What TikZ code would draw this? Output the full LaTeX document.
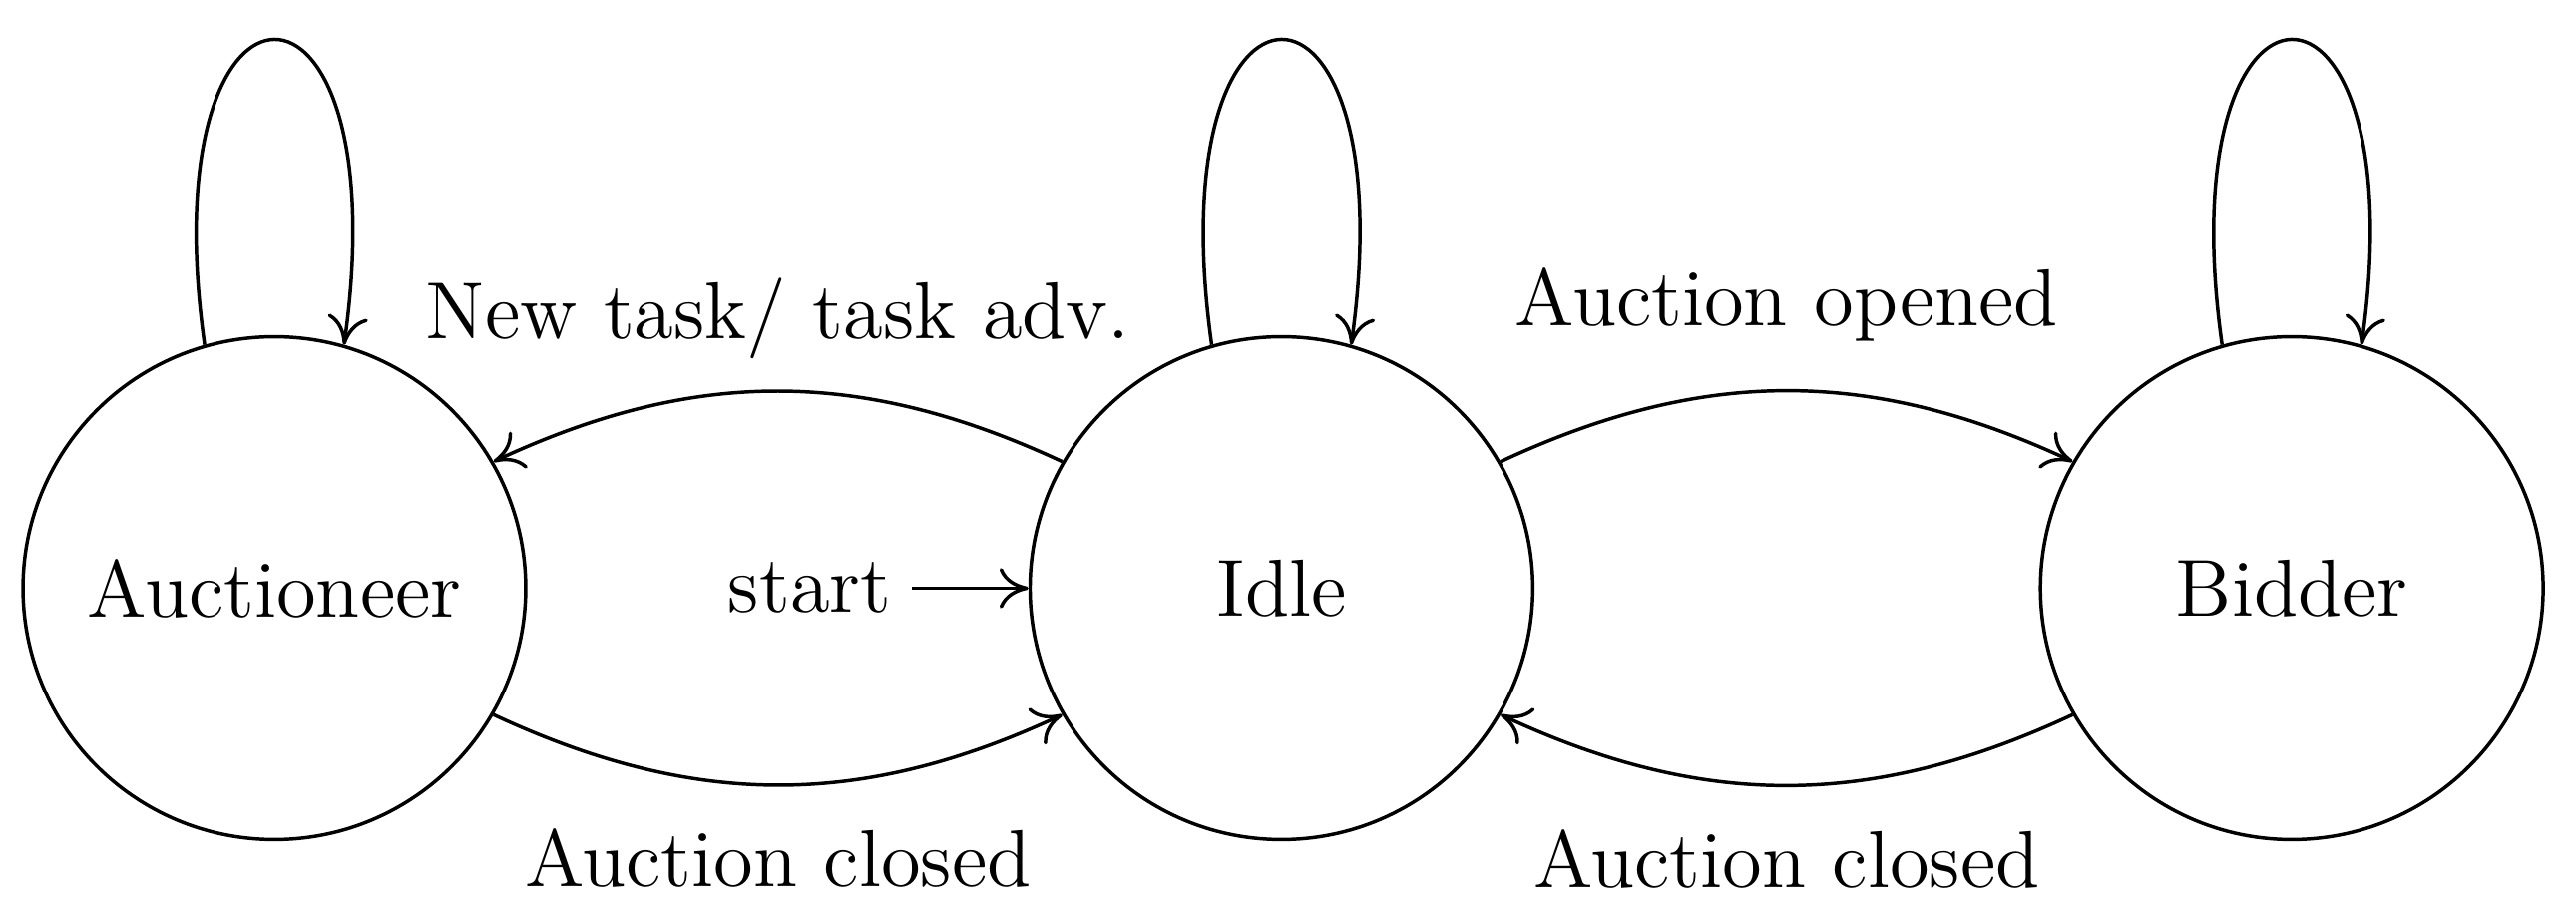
\documentclass[tikz,border=0pt]{standalone}
\usetikzlibrary{arrows.meta}
\begin{document}
\begin{tikzpicture}[
  state/.style={draw,circle,minimum size=3.06cm,inner sep=0pt,line width=0.6pt},
  edge/.style={-{To[length=5pt,width=7pt]},line width=0.6pt},
  lbl/.style={font=\fontsize{14}{16}\selectfont}]
\useasboundingbox (0,0) rectangle (15.68,5.61);
\node[state,lbl] (A) at (1.67,2.03) {Auctioneer};
\node[state,lbl] (I) at (7.80,2.03) {Idle};
\node[state,lbl] (B) at (13.95,2.03) {Bidder};
\coordinate (S) at (5.55,2.03);
\node[lbl,anchor=east] (st) at (S) {start};
\draw[edge] (S) -- (I.west);
\foreach \n in {A,I,B}{
  \draw[edge] (\n.106) .. controls +(98:2.5) and +(82:2.5) .. (\n.74);
}
\draw[edge] (I.150) to[bend right=25] node[lbl,above=2pt] (l1) {New task/ task adv.} (A.30);
\draw[edge] (I.30) to[bend left=25] node[lbl,above=5pt] (l2) {Auction opened} (B.150);
\draw[edge] (A.-30) to[bend right=25] node[lbl,below=4pt] (l3) {Auction closed} (I.-150);
\draw[edge] (B.-150) to[bend left=25] node[lbl,below=4pt] (l4) {Auction closed} (I.-30);
\end{tikzpicture}
\end{document}
